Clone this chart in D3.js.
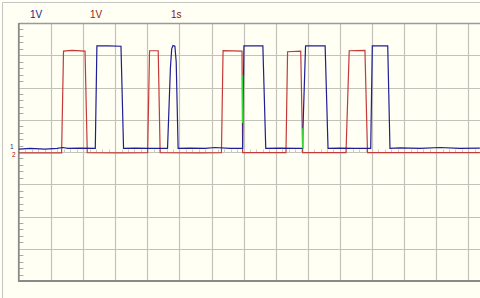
<!DOCTYPE html>
<html><head><meta charset="utf-8">
<script src="https://cdn.jsdelivr.net/npm/d3@7"></script>
<style>html,body{margin:0;padding:0;background:#fffff4;}svg{display:block;}</style>
</head><body>
<svg id="c" width="480" height="298"></svg>
<script>
// Channel 1 (blue) samples: [time s, volts]
const ch1 = [[0,0.09],[0.35,0.11],[0.81,0.09],[1.19,0.11],[1.37,0.14],[1.53,0.11],[1.90,0.12],[2.38,0.11],
 [2.43,3.29],[2.78,3.29],[3.18,3.28],[3.26,0.11],[3.62,0.12],[4.08,0.11],[4.63,0.11],[4.72,2.60],[4.76,3.20],
 [4.80,3.30],[4.86,3.28],[4.90,2.80],[4.96,0.11],[5.33,0.12],[5.80,0.11],[6.11,0.14],[6.58,0.11],[6.97,0.11],
 [7.01,3.29],[7.60,3.29],[7.69,0.11],[8.13,0.12],[8.60,0.11],[8.84,0.11],[8.85,0.74],[8.93,3.29],[9.54,3.29],
 [9.63,0.11],[10.00,0.12],[10.47,0.11],[10.96,0.11],[11.01,3.29],[11.49,3.29],[11.56,0.11],[11.87,0.13],
 [12.50,0.11],[13.12,0.14],[13.74,0.11],[14.36,0.12]];
// Channel 2 (red) samples: [time s, volts]
const ch2 = [[0,-0.03],[1.33,-0.03],[1.39,3.13],[1.65,3.15],[2.06,3.13],[2.13,-0.02],[3.15,-0.03],[4.01,-0.02],
 [4.07,3.14],[4.34,3.14],[4.40,-0.02],[5.64,-0.03],[6.31,-0.02],[6.36,3.14],[6.95,3.13],[6.97,-0.02],
 [8.32,-0.02],[8.37,3.11],[8.78,3.13],[8.84,-0.02],[10.19,-0.02],[10.29,3.14],[10.78,3.15],[10.86,-0.02],[14.36,-0.02]];
// Edges where both channels coincide: [time s, v from, v to]
const overlap = [[6.97,2.39,0.90],[8.84,0.74,0.11]];
const scaleLabels = ["1V","1V","1s"];
const channelMarks = ["1","2"];

const svg = d3.select("#c");
const W = 480, H = 298;
const x = d3.scaleLinear().domain([0,14]).range([18.9, 18.9 + 32.1*14]);
const y = d3.scaleLinear().domain([-4,4]).range([281,23]);

// outer frame
svg.append("line").attr("x1",2.5).attr("x2",W).attr("y1",2.5).attr("y2",2.5).attr("stroke","#c4c4c4");
svg.append("line").attr("x1",2.5).attr("x2",2.5).attr("y1",2.5).attr("y2",H).attr("stroke","#c4c4c4");

const g = svg.append("g");
// vertical grid
const xt = d3.range(1,15);
g.selectAll(".vg").data(xt).join("line")
 .attr("x1",d=>Math.round(x(d))+0.5).attr("x2",d=>Math.round(x(d))+0.5)
 .attr("y1",y(4)).attr("y2",y(-4)).attr("stroke","#c2c2bb").attr("stroke-width",1.2);
// horizontal grid
const yt = d3.range(-3,4);
g.selectAll(".hg").data(yt).join("line")
 .attr("x1",x(0)).attr("x2",W).attr("y1",d=>Math.round(y(d))+0.5).attr("y2",d=>Math.round(y(d))+0.5)
 .attr("stroke","#c2c2bb").attr("stroke-width",1.2);
// minor ticks on left axis
const minorY = d3.range(-4,4.001,0.2).filter(d=>Math.abs(d-Math.round(d))>0.01);
g.selectAll(".my").data(minorY).join("line")
 .attr("x1",x(0)).attr("x2",x(0)+4.5).attr("y1",d=>Math.round(y(d))+0.5).attr("y2",d=>Math.round(y(d))+0.5)
 .attr("stroke","#a8a8a8");
// minor ticks on centre line
const minorX = d3.range(0,14.4,0.2).filter(d=>Math.abs(d-Math.round(d))>0.01);
g.selectAll(".mx").data(minorX).join("line")
 .attr("x1",d=>Math.round(x(d))+0.5).attr("x2",d=>Math.round(x(d))+0.5)
 .attr("y1",y(0)-2.5).attr("y2",y(0)+1).attr("stroke","#cacaca");
// axes frame
g.append("line").attr("x1",x(0)).attr("x2",W).attr("y1",23.5).attr("y2",23.5).attr("stroke","#9a9a9a").attr("stroke-width",1.6);
g.append("line").attr("x1",x(0)).attr("x2",W).attr("y1",281).attr("y2",281).attr("stroke","#8a8a8a").attr("stroke-width",2);
g.append("line").attr("x1",18.8).attr("x2",18.8).attr("y1",23).attr("y2",282).attr("stroke","#8a8a8a").attr("stroke-width",1.8);

// traces
const line = d3.line().x(d=>x(d[0])).y(d=>y(d[1]));
svg.append("path").datum(ch2).attr("d",line).attr("fill","none").attr("stroke","#c43a3a").attr("stroke-width",1.2);
svg.append("path").datum(ch1).attr("d",line).attr("fill","none").attr("stroke","#1e1e96").attr("stroke-width",1.2);
svg.selectAll(".ov").data(overlap).join("line")
 .attr("x1",d=>x(d[0])).attr("x2",d=>x(d[0])).attr("y1",d=>y(d[1])).attr("y2",d=>y(d[2]))
 .attr("stroke","#3ad63a").attr("stroke-width",1.3);

// labels
const lab = [{t:scaleLabels[0],x:30,c:"#1a1a8c"},{t:scaleLabels[1],x:90,c:"#a01818"},{t:scaleLabels[2],x:171,c:"#8a1010"}];
svg.selectAll(".lb").data(lab).join("text").attr("x",d=>d.x).attr("y",17.8).text(d=>d.t)
 .attr("fill",d=>d.c).attr("font-family","Liberation Sans, Arial, sans-serif").attr("font-size",10);
svg.append("text").attr("x",10).attr("y",148.5).text(channelMarks[0]).attr("fill","#1a1a8c")
 .attr("font-family","Liberation Sans, Arial, sans-serif").attr("font-size",6.5);
svg.append("text").attr("x",12).attr("y",156.6).text(channelMarks[1]).attr("fill","#a01818")
 .attr("font-family","Liberation Sans, Arial, sans-serif").attr("font-size",6.5);
</script>
</body></html>
